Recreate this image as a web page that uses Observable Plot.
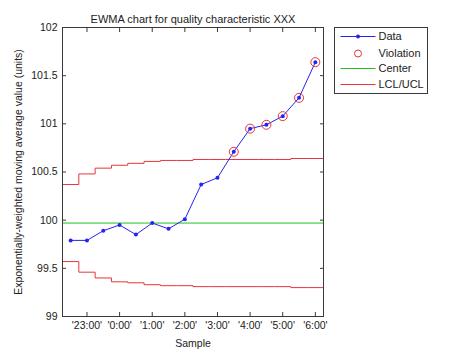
<!DOCTYPE html>
<html>
<head>
<meta charset="utf-8">
<script src="https://cdn.jsdelivr.net/npm/d3@7"></script>
<script src="https://cdn.jsdelivr.net/npm/@observablehq/plot@0.6"></script>
<style>
  html, body { margin: 0; padding: 0; background: #fff; }
  #chart { width: 474px; height: 355px; }
</style>
</head>
<body>
<div id="chart"></div>
<script>
const title = "EWMA chart for quality characteristic XXX";
const xLabel = "Sample";
const yLabel = "Exponentially-weighted moving average value (units)";

const samples = [1, 2, 3, 4, 5, 6, 7, 8, 9, 10, 11, 12, 13, 14, 15, 16];
const ewma = [99.79, 99.79, 99.89, 99.95, 99.85, 99.97, 99.91, 100.01,
              100.37, 100.44, 100.71, 100.95, 100.99, 101.08, 101.27, 101.64];
const ucl = [100.37, 100.48, 100.54, 100.57, 100.59, 100.61, 100.62, 100.62,
             100.63, 100.63, 100.63, 100.63, 100.63, 100.63, 100.64, 100.64];
const lcl = [99.57, 99.46, 99.40, 99.36, 99.35, 99.33, 99.32, 99.32,
             99.31, 99.31, 99.31, 99.31, 99.31, 99.31, 99.30, 99.30];
const center = 99.97;

const xTicks = [2, 4, 6, 8, 10, 12, 14, 16];
const xTickLabels = ["'23:00'", "'0:00'", "'1:00'", "'2:00'", "'3:00'", "'4:00'", "'5:00'", "'6:00'"];
const yTicks = [99, 99.5, 100, 100.5, 101, 101.5, 102];

const legendNames = ["Data", "Violation", "Center", "LCL/UCL"];

const BLUE = "#2424f0", RED = "#e8343c", GREEN = "#22c022", AXIS = "#3a3a3a";

const data = samples.map((s, i) => ({s, v: ewma[i]}));
const violations = data.filter((d, i) => d.v > ucl[i] || d.v < lcl[i]);
const stepData = (arr) => samples.map((s, i) => ({x: s - 0.5, y: arr[i]}))
  .concat([{x: samples[samples.length - 1] + 0.5, y: arr[arr.length - 1]}]);

const plot = Plot.plot({
  width: 474,
  height: 355,
  marginLeft: 62,
  marginRight: 151,
  marginTop: 27,
  marginBottom: 39,
  style: {fontFamily: "'Liberation Sans', Arial, sans-serif", fontSize: "10.5px", color: "#222", background: "#fff"},
  x: {domain: [0.5, 16.5]},
  y: {domain: [99, 102]},
  marks: [
    Plot.ruleY([center], {stroke: GREEN, strokeWidth: 1}),
    Plot.line(stepData(ucl), {x: "x", y: "y", curve: "step-after", stroke: RED, strokeWidth: 1}),
    Plot.line(stepData(lcl), {x: "x", y: "y", curve: "step-after", stroke: RED, strokeWidth: 1}),
    Plot.line(data, {x: "s", y: "v", stroke: BLUE, strokeWidth: 1}),
    Plot.dot(data, {x: "s", y: "v", r: 2, fill: BLUE, stroke: null}),
    Plot.dot(violations, {x: "s", y: "v", r: 4.5, stroke: RED, strokeWidth: 1, fill: "none"}),
    Plot.frame({stroke: AXIS, strokeWidth: 1}),
    Plot.axisX({anchor: "bottom", ticks: xTicks, tickSize: -4, tickPadding: 9, stroke: AXIS,
      tickFormat: (d) => xTickLabels[xTicks.indexOf(d)],
      label: xLabel, labelAnchor: "center", labelArrow: "none", labelOffset: 30}),
    Plot.axisX({anchor: "top", ticks: xTicks, tickSize: -4, tickFormat: () => "", stroke: AXIS, label: null}),
    Plot.axisY({anchor: "left", ticks: yTicks, tickSize: -4, tickPadding: 9, stroke: AXIS,
      tickFormat: (d) => String(d),
      label: yLabel, labelAnchor: "center", labelArrow: "none", labelOffset: 48}),
    Plot.axisY({anchor: "right", ticks: yTicks, tickSize: -4, tickFormat: () => "", stroke: AXIS, label: null}),
    Plot.text([title], {frameAnchor: "top", dy: -12, fontSize: 11, fill: "#222"})
  ]
});

document.getElementById("chart").appendChild(plot);

// Legend (inside the SVG, to the right of the plot frame)
const svg = d3.select(plot);
const lg = svg.append("g").attr("transform", "translate(334.5,27.5)")
  .attr("font-family", "'Liberation Sans', Arial, sans-serif").attr("font-size", "11px")
  .attr("text-anchor", "start");
lg.append("rect").attr("width", 93).attr("height", 66).attr("fill", "#fff").attr("stroke", AXIS);
const rowY = [9, 26, 41, 57];
legendNames.forEach((name, i) => {
  const g = lg.append("g").attr("transform", `translate(0,${rowY[i]})`);
  if (i === 0) {
    g.append("line").attr("x1", 6).attr("x2", 41).attr("stroke", BLUE);
    g.append("circle").attr("cx", 23.5).attr("r", 2).attr("fill", BLUE);
  } else if (i === 1) {
    g.append("circle").attr("cx", 23.5).attr("r", 3.5).attr("fill", "none").attr("stroke", RED);
  } else {
    g.append("line").attr("x1", 6).attr("x2", 41).attr("stroke", i === 2 ? GREEN : RED);
  }
  g.append("text").attr("x", 44).attr("dy", "0.35em").attr("text-anchor", "start")
    .attr("fill", "#222").text(name);
});
</script>
</body>
</html>
